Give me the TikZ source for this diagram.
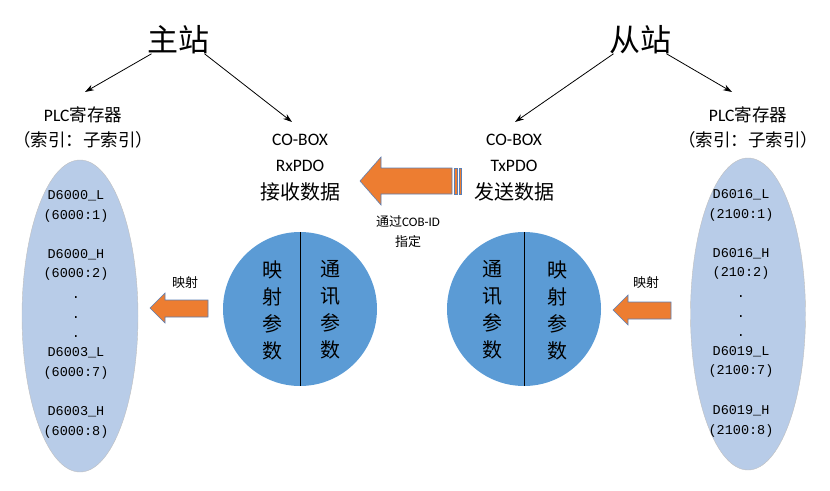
\documentclass[tikz,border=0pt]{standalone}
\usepackage{fontspec}
\setmainfont{Carlito}
\newfontfamily\cjk{Noto Sans CJK SC}
\newfontfamily\ser{Liberation Mono}
\usetikzlibrary{shapes.geometric,arrows.meta}
\definecolor{org}{HTML}{ED7D31}
\definecolor{obd}{HTML}{5B7FB5}
\definecolor{cir}{HTML}{5B9BD5}
\definecolor{ell}{HTML}{B8CCE8}
\begin{document}
\begin{tikzpicture}[x=1pt,y=-1pt,
  con/.style={-{Stealth[length=9pt,width=6pt]},line width=0.8pt},
  plc/.style={font=\fontsize{17.5}{19}\selectfont},
  reg/.style={font=\ser\fontsize{13.5}{15}\selectfont},
  vt/.style={font=\cjk\fontsize{20}{22}\selectfont,align=center},
  oarr/.style={fill=org,draw=obd,line width=0.6pt},
  big/.style={font=\cjk\fontsize{31}{33}\selectfont}]
\useasboundingbox (0,0) rectangle (830,490);
% titles
\node[big] (m) at (178,40) {主站};
\node[big] (s) at (640,40) {从站};
\coordinate (ml) at (85,92); \coordinate (mr) at (292,122);
\coordinate (sl) at (515,122); \coordinate (sr) at (732,92);
\draw[con] (m.south west)++(8,-4) -- (ml);
\draw[con] (m.south east)++(-8,-4) -- (mr);
\draw[con] (s.south west)++(8,-4) -- (sl);
\draw[con] (s.south east)++(-8,-4) -- (sr);
% PLC labels
\node[plc] (pl1) at (83,115) {PLC{\cjk 寄存器}};
\node[plc] (pl2) at (83,140) {\cjk （索引：子索引）};
\node[plc] (pr1) at (748,115) {PLC{\cjk 寄存器}};
\node[plc] (pr2) at (748,140) {\cjk （索引：子索引）};
% ellipses
\node[ellipse,fill=ell,draw=black!25,minimum width=116,minimum height=312,inner sep=0] (el) at (80,316) {};
\node[ellipse,fill=ell,draw=black!25,minimum width=115,minimum height=312,inner sep=0] (er) at (748,314) {};
\foreach \y/\t in {196/D6000\_L,216/(6000:1),255/D6000\_H,274/(6000:2),298/.,318/.,337/.,353/D6003\_L,373/(6000:7),412/D6003\_H,432/(6000:8)}
  \node[reg] at (76,\y) {\t};
\foreach \y/\t in {195/D6016\_L,215/(2100:1),254/D6016\_H,273/(210:2),297/.,317/.,336/.,352/D6019\_L,371/(2100:7),411/D6019\_H,431/(2100:8)}
  \node[reg] at (741,\y) {\t};
% circles
\node[circle,fill=cir,minimum size=154,inner sep=0] (cl) at (300,309) {};
\draw[line width=0.8pt] (cl.north) -- (cl.south);
\node[circle,fill=cir,minimum size=154,inner sep=0] (cr) at (524,309) {};
\draw[line width=0.8pt] (cr.north) -- (cr.south);
\node[vt] (t1) at (272,310) {映\\[5pt]射\\[5pt]参\\[5pt]数};
\node[vt] (t2) at (330,310) {通\\[5pt]讯\\[5pt]参\\[5pt]数};
\node[vt] (t3) at (492,310) {通\\[5pt]讯\\[5pt]参\\[5pt]数};
\node[vt] (t4) at (557,310) {映\\[5pt]射\\[5pt]参\\[5pt]数};
% CO-BOX labels
\node[plc] (c1) at (300,140) {CO-BOX};
\node[plc] (c2) at (300,166) {RxPDO};
\node[font=\cjk\fontsize{20}{22}\selectfont] (c3) at (300,192) {接收数据};
\node[plc] (c4) at (514,140) {CO-BOX};
\node[plc] (c5) at (514,166) {TxPDO};
\node[font=\cjk\fontsize{20}{22}\selectfont] (c6) at (514,192) {发送数据};
% big arrow
\draw[oarr] (360,181) -- (381,157) -- (381,168) -- (452,168) -- (452,194) -- (381,194) -- (381,205) -- cycle;
\fill[org] (454,168) rectangle (457,194);
\fill[org] (459,168) rectangle (461,194);
\draw[obd,line width=0.5pt] (454,168) rectangle (457,194) (459,168) rectangle (461,194);
\node[font=\cjk\fontsize{13}{20}\selectfont,align=center] (lb) at (408,232) {通过{\fontspec{Carlito}COB-ID}\\指定};
% small arrows
\draw[oarr] (150,308) -- (165,293) -- (165,300) -- (208,300) -- (208,317) -- (165,317) -- (165,323) -- cycle;
\node[font=\cjk\fontsize{13}{15}\selectfont] (m1) at (185,283) {映射};
\draw[oarr] (613,310) -- (628,295) -- (628,302) -- (671,302) -- (671,319) -- (628,319) -- (628,325) -- cycle;
\node[font=\cjk\fontsize{13}{15}\selectfont] (m2) at (646,283) {映射};
\end{tikzpicture}
\end{document}
